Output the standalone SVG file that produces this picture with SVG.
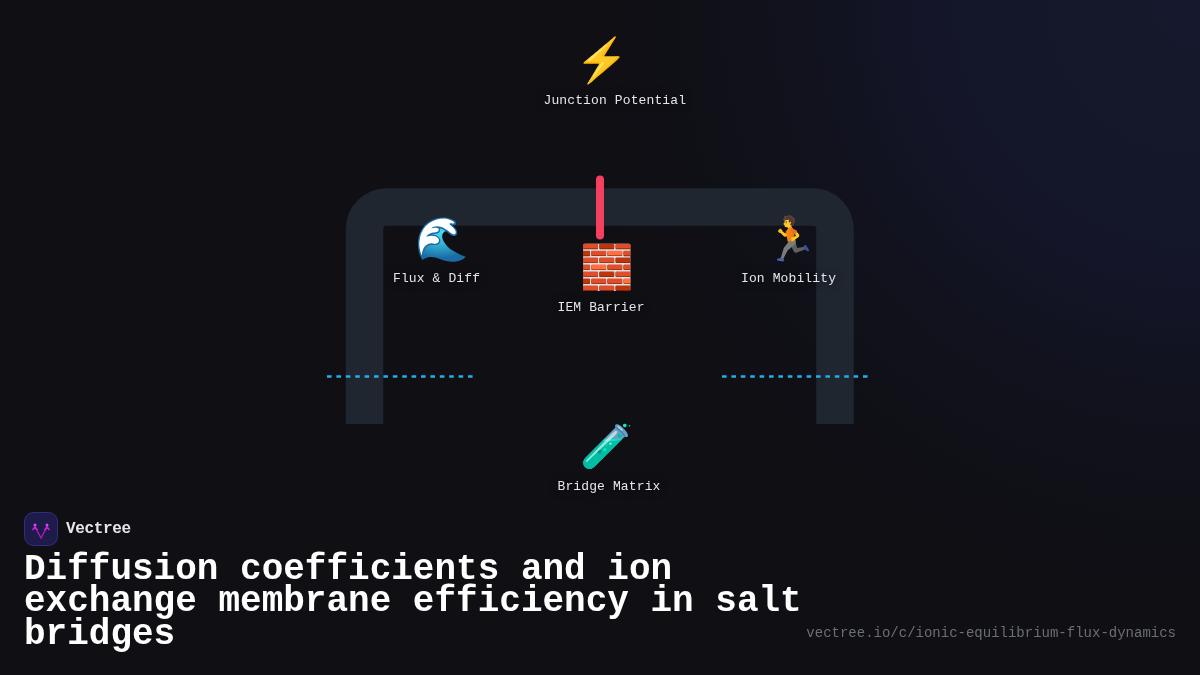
<svg xmlns="http://www.w3.org/2000/svg" width="1200" height="675" viewBox="0 0 1200 675">
<defs>
<radialGradient id="glow" gradientUnits="userSpaceOnUse" cx="1200" cy="0" r="640">
<stop offset="0" stop-color="#16182d"/>
<stop offset="0.45" stop-color="#14162a" stop-opacity="0.9"/>
<stop offset="1" stop-color="#0f1016" stop-opacity="0"/>
</radialGradient>
</defs>
<style>
text{opacity:.995}
.lbl{font-family:"Liberation Mono",monospace;font-size:13px;letter-spacing:.12px;fill:#e5e7eb;filter:drop-shadow(0 0 4px rgba(0,0,0,.6))}
.emo{font-family:"Noto Color Emoji","Noto Sans",sans-serif;font-size:43px;text-anchor:middle}
.ttl{font-family:"Liberation Mono",monospace;font-size:36px;font-weight:700;fill:#fff}
.flow{fill:none;stroke:#24aeeb;stroke-width:2.400;stroke-dasharray:4.600 4.800}
</style>
<rect width="1200" height="675" fill="#0f0f14"/>
<rect width="1200" height="675" fill="url(#glow)"/>
<g id="connectors">
<path d="M364.500 424V229a22 22 0 0 1 22-22H813a22 22 0 0 1 22 22V424" fill="none" stroke="#1f2630" stroke-width="37.500"/>
<path d="M600 179.500V235.500" fill="none" stroke="#f43f5e" stroke-width="8" stroke-linecap="round"/>
<path class="flow" d="M327 376.500H474"/>
<path class="flow" d="M722 376.500H869"/>
</g>
<g id="node-junction"><text class="emo" x="602.500" y="75">⚡</text><text class="lbl" x="543.500" y="104">Junction Potential</text></g>
<g id="node-flux"><text class="emo" x="442.500" y="254">🌊</text><text class="lbl" x="393" y="282">Flux &amp; Diff</text></g>
<g id="node-iem"><text class="emo" x="607" y="282">🧱</text><text class="lbl" x="557.500" y="311">IEM Barrier</text></g>
<g id="node-ion"><text class="emo" x="791" y="254">🏃</text><text class="lbl" x="741" y="282">Ion Mobility</text></g>
<g id="node-bridge"><text class="emo" x="607" y="461">🧪</text><text class="lbl" x="557.500" y="490">Bridge Matrix</text></g>
<g id="brand">
<rect x="24.500" y="512.500" width="33" height="33" rx="9" fill="#1e1b4b" stroke="#312e81"/>
<path d="M35 527L41 538L47 527" fill="none" stroke="#a21caf" stroke-width="1.500"/>
<path d="M32.500 530L35 527L37.500 530M44.500 530L47 527L49.500 530" fill="none" stroke="#c026d3" stroke-width="1.500"/>
<circle cx="35" cy="525" r="1.500" fill="#d946ef"/><circle cx="47" cy="525" r="1.500" fill="#d946ef"/>
<text x="66" y="533" font-family="Liberation Mono,monospace" font-size="16" font-weight="700" fill="#e5e7eb" textLength="65">Vectree</text>
</g>
<g id="title">
<text class="ttl" x="24" y="579">Diffusion coefficients and ion</text>
<text class="ttl" x="24" y="611">exchange membrane efficiency in salt</text>
<text class="ttl" x="24" y="644">bridges</text>
</g>
<text x="1176" y="637" text-anchor="end" font-family="Liberation Mono,monospace" font-size="14" fill="#6b6f78">vectree.io/c/ionic-equilibrium-flux-dynamics</text>
</svg>
